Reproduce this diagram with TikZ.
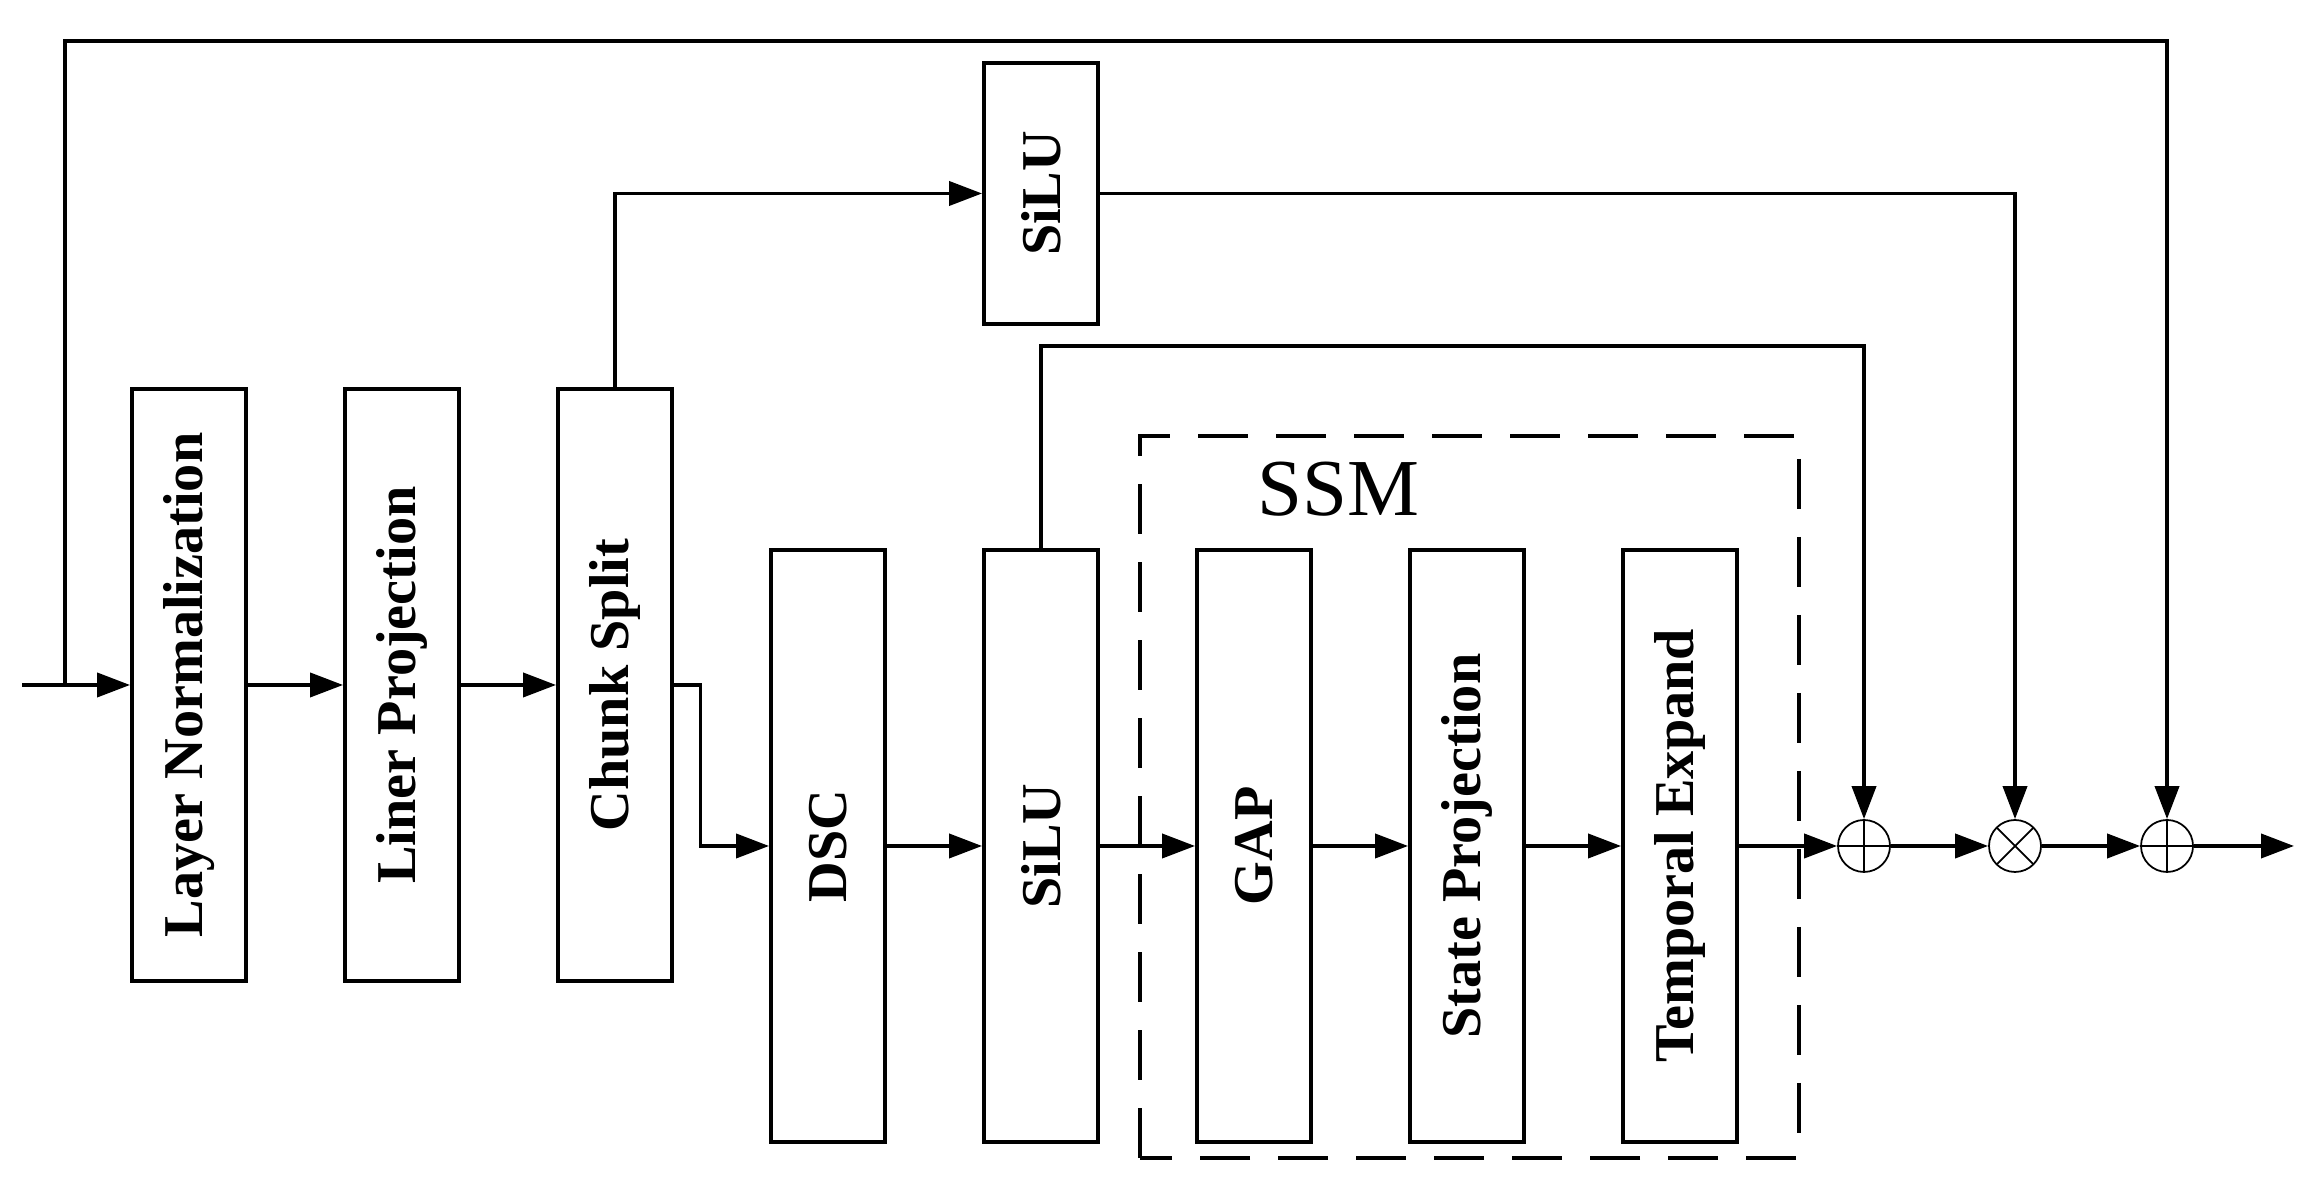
\documentclass[tikz,border=0pt]{standalone}
\usepackage{fontspec}
\setmainfont{Liberation Serif}
\usepackage{tikz}
\usetikzlibrary{arrows.meta,positioning}
\newcommand{\vtxt}[1]{\rotatebox{90}{\bfseries #1}}

\begin{document}
\begin{tikzpicture}[->,>={Triangle[length=3.3mm,width=2.4mm]},line width=1.1pt,node distance=2.13cm,
                    blk/.style={draw,minimum width=1.14cm,minimum height=5.92cm,inner sep=0pt,
                                font=\fontsize{16}{18}\selectfont},
                    op/.style={draw,circle,minimum size=0.52cm,inner sep=0pt,line width=0.5pt},
                    plus/.style={op,path picture={\draw[-,line width=0.5pt]
                        (path picture bounding box.north) -- (path picture bounding box.south)
                        (path picture bounding box.west) -- (path picture bounding box.east);}},
                    times/.style={op,path picture={\draw[-,line width=0.5pt]
                        (path picture bounding box.north west) -- (path picture bounding box.south east)
                        (path picture bounding box.south west) -- (path picture bounding box.north east);}}]

  \useasboundingbox (0,0) rectangle (23.1,11.9);

  \node[blk] (ln) at (1.89,5.05)         {\vtxt{Layer Normalization}};
  \node[blk] (lp)  [right of=ln]         {\vtxt{Liner Projection}};
  \node[blk] (cs)  [right of=lp]         {\vtxt{Chunk Split}};
  \node[blk] (dsc) [right of=cs, yshift=-1.61cm] {\vtxt{DSC}};
  \node[blk] (silu) [right of=dsc]       {\vtxt{SiLU}};
  \node[blk] (gap) [right of=silu]       {\vtxt{GAP}};
  \node[blk] (sp)  [right of=gap]        {\vtxt{State Projection}};
  \node[blk] (te)  [right of=sp]         {\vtxt{Temporal Expand}};
  \node[blk, minimum height=2.61cm] (silut) at (10.41,9.965) {\vtxt{SiLU}};

  \node[plus]  (add1) at (18.64,3.44) {};
  \node[times] (mul)  at (20.15,3.44) {};
  \node[plus]  (add2) at (21.67,3.44) {};

  \coordinate (in)  at (0.22,5.05);
  \coordinate (brk) at (0.65,5.05);
  \coordinate (out) at (22.94,3.44);

  \draw[-,dash pattern=on 5mm off 2.8mm] (11.40,0.32) rectangle (17.99,7.54);
  \node (ssm) at (13.38,7.01) {\fontsize{23}{26}\selectfont SSM};

  \path (in) edge (ln)
        (ln) edge (lp)
        (lp) edge (cs)
        (dsc) edge (silu)
        (silu) edge (gap)
        (gap) edge (sp)
        (sp) edge (te)
        (te) edge (add1)
        (add1) edge (mul)
        (mul) edge (add2)
        (add2) edge (out);

  \draw (cs.east) -- ++(0.265,0) |- (dsc.west);
  \draw (cs.north) |- (silut.west);
  \draw (silut.east) -| (mul.north);
  \draw (silu.north) -- (silu.north |- 0,8.44) -| (add1.north);
  \draw (brk) -- (brk |- 0,11.49) -| (add2.north);

\end{tikzpicture}
\end{document}
